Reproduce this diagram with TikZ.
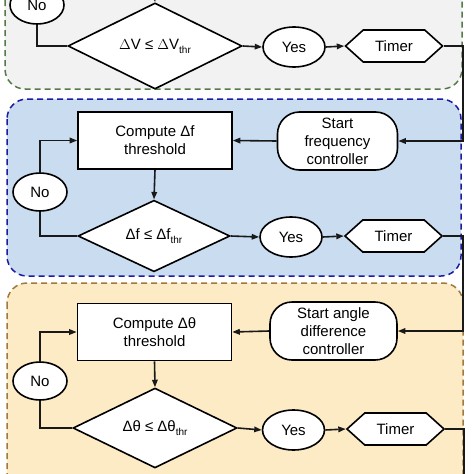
\documentclass[tikz,border=0pt]{standalone}
\usepackage{fontspec}
\setmainfont{Liberation Sans}
\usetikzlibrary{shapes.geometric,shapes.symbols,arrows.meta}
\definecolor{greyfill}{HTML}{F2F2F2}
\definecolor{greenb}{HTML}{557A4A}
\definecolor{bluefill}{HTML}{C9DCF0}
\definecolor{blueb}{HTML}{1C1CA0}
\definecolor{orangefill}{HTML}{FDEBC6}
\definecolor{orangeb}{HTML}{A07A3C}
\newcommand{\thrsub}{\raisebox{-0.5ex}{\fontsize{10}{10}\selectfont thr}}
\begin{document}
\begin{tikzpicture}[x=1pt,y=-1pt,
  every node/.style={font=\fontsize{15}{18}\selectfont, line width=1.6pt, draw, fill=white, inner sep=0pt, align=center},
  box/.style={rectangle, minimum width=154pt, minimum height=57pt},
  startbox/.style={rectangle, rounded corners=22pt, minimum width=120pt, minimum height=58pt},
  oval/.style={ellipse, minimum width=62pt, minimum height=40pt},
  noval/.style={ellipse, minimum width=54pt, minimum height=38pt},
  dec/.style={diamond, minimum height=69pt},
  timerbox/.style={signal, signal to=east and west, signal pointer angle=84, minimum width=97pt, minimum height=32pt},
  conn/.style={line width=1.6pt, draw=black!90},
  arr/.style={conn, -{Triangle[length=7.5pt,width=5.5pt]}},
  panel/.style={line width=1.5pt, dash pattern=on 6pt off 4pt, rounded corners=20pt}
]
\useasboundingbox (0,0) rectangle (474,474);
\fill[white] (0,0) rectangle (474,474);
\draw[panel, draw=greenb, fill=greyfill] (5,-40) rectangle (462,89);
\draw[panel, draw=blueb, fill=bluefill] (7,99) rectangle (461,276);
\draw[panel, draw=orangeb, fill=orangefill] (7,283) rectangle (463,520);

% section 1
\coordinate (topin) at (154,-10);
\node[noval] (no1) at (37,5) {No};
\node[dec, minimum width=174pt] (d1) at (155,46) {$\Delta$V ≤ $\Delta$V\thrsub};
\node[oval] (yes1) at (294,47) {Yes};
\node[timerbox] (timer1) at (394,46) {Timer};

% section 2
\node[box] (compute2) at (155,140.5) {Compute Δf\\threshold};
\node[startbox] (start2) at (337.5,141) {Start\\frequency\\controller};
\node[noval] (no2) at (40,192) {No};
\node[dec, minimum width=152pt] (d2) at (154,236) {Δf ≤ Δf\thrsub};
\node[oval] (yes2) at (291,237) {Yes};
\node[timerbox] (timer2) at (393.5,236) {Timer};

% section 3
\node[box] (compute3) at (154.5,332) {Compute Δθ\\threshold};
\node[startbox, minimum width=127pt] (start3) at (333.5,331) {Start angle\\difference\\controller};
\node[noval] (no3) at (40,381) {No};
\node[dec, minimum width=164pt] (d3) at (155,428) {Δθ ≤ Δθ\thrsub};
\node[oval] (yes3) at (293.5,430) {Yes};
\node[timerbox] (timer3) at (395.5,429) {Timer};

\coordinate (r1) at (463,0);
\coordinate (r2) at (463,0);
\coordinate (r3) at (464,490);

% connectors section 1
\draw[arr] (topin) -- (d1.north);
\draw[conn] (no1.south) |- (d1.west);
\draw[arr] (d1.east) -- (yes1.west);
\draw[arr] (yes1.east) -- (timer1.west);
\draw[arr] (timer1.east) -- (timer1.east -| r1) |- (start2.east);

% section 2
\draw[arr] (start2.west) -- (compute2.east);
\draw[arr] (compute2.south) -- (d2.north);
\draw[conn] (no2.south) |- (d2.west);
\draw[arr] (no2.north) |- (compute2.west);
\draw[arr] (d2.east) -- (yes2.west);
\draw[arr] (yes2.east) -- (timer2.west);
\draw[arr] (timer2.east) -- (timer2.east -| r2) |- (start3.east);

% section 3
\draw[arr] (start3.west) -- (compute3.east);
\draw[arr] (compute3.south) -- (d3.north);
\draw[conn] (no3.south) |- (d3.west);
\draw[arr] (no3.north) |- (compute3.west);
\draw[arr] (d3.east) -- (yes3.west);
\draw[arr] (yes3.east) -- (timer3.west);
\draw[conn] (timer3.east) -| (r3);
\end{tikzpicture}
\end{document}
